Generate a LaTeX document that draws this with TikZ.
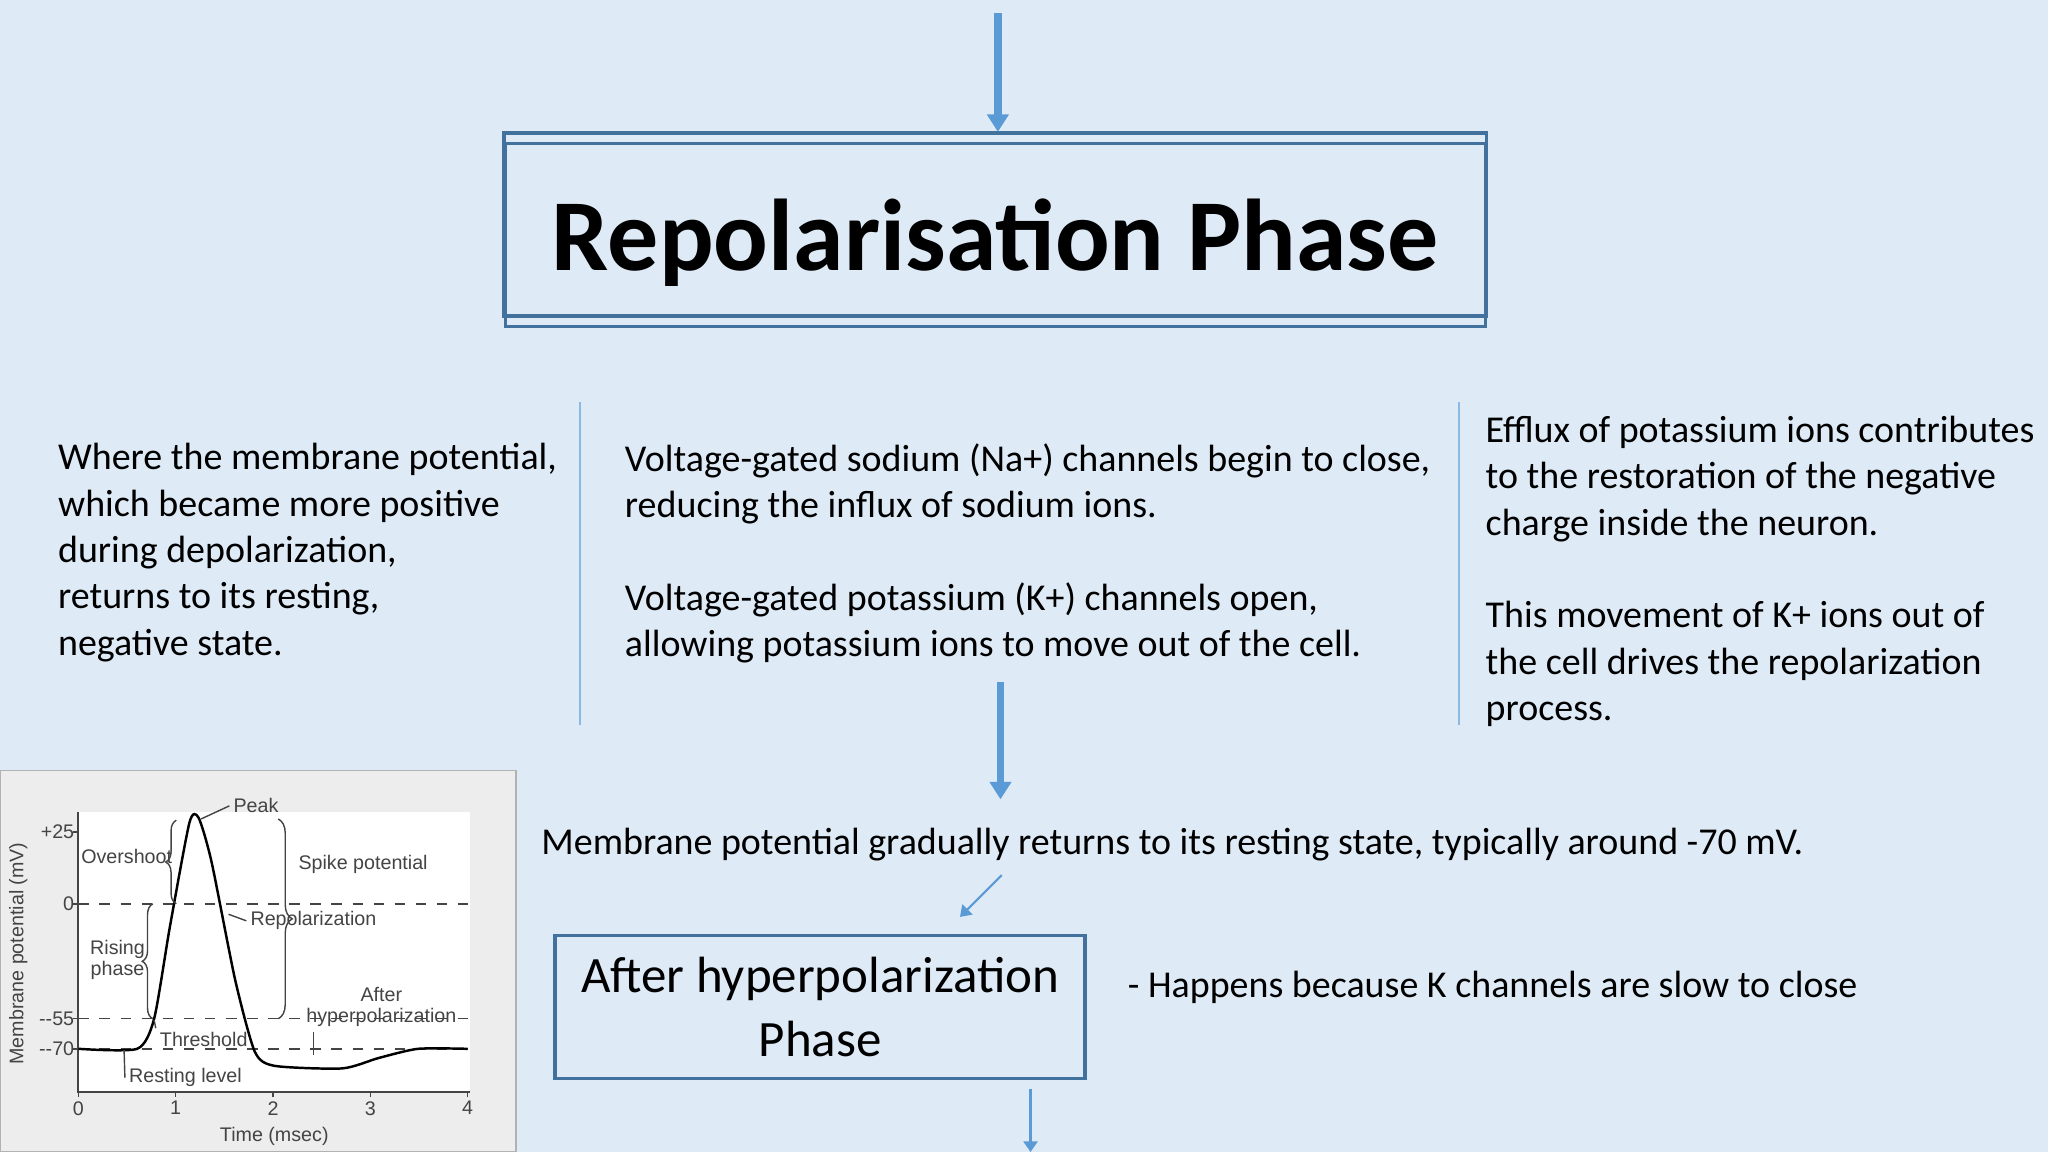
\documentclass[tikz,border=0pt]{standalone}
\usepackage{fontspec}
\setmainfont{Carlito}
\newfontfamily\plotfont{Liberation Sans}
\usetikzlibrary{positioning, arrows.meta, calc, decorations.pathreplacing}
\definecolor{bgcolor}{HTML}{DEEAF6}
\definecolor{boxcolor}{HTML}{41719C}
\definecolor{arrowcolor}{HTML}{5B9BD5}
\definecolor{panelcolor}{HTML}{EDEDED}
\definecolor{plotink}{HTML}{444444}
\begin{document}
\begin{tikzpicture}[x=0.01306cm, y=-0.01306cm]

    % --- Style Definitions ---
    \tikzset{
        block/.style={rectangle, draw=boxcolor, line width=1pt, text=black},
        body/.style={align=left, anchor=north west, font=\fontsize{10.8}{13.2}\selectfont, text=black},
        arrow/.style={-{Triangle[length=5pt,width=6pt]}, line width=2.2pt, arrowcolor},
        thinarrow/.style={-{Triangle[length=3pt,width=4pt]}, line width=0.6pt, arrowcolor},
        divider/.style={arrowcolor!70, line width=0.5pt},
        plotlabel/.style={font=\plotfont\fontsize{5.6}{6.2}\selectfont, text=plotink, align=center, inner sep=1pt}
    }

    % background
    \fill[bgcolor] (0,0) rectangle (1568,882);
    \useasboundingbox (0,0) rectangle (1568,882);

    % --- Boxes ---
    \node[block, minimum width=9.8cm, minimum height=1.83cm, text depth=0pt,
          font=\bfseries\fontsize{29}{32}\selectfont] (title) at (762,180) {Repolarisation Phase};
    \draw[boxcolor, line width=1pt] (386,102) rectangle (1138,242);
    \node[block, minimum width=5.3cm, minimum height=1.43cm, align=center,
          font=\fontsize{14.5}{18}\selectfont] (after) at (628,771) {After hyperpolarization\\Phase};

    % --- Text columns ---
    \node[body] (where) at (35,330) {Where the membrane potential,\\which became more positive\\during depolarization,\\returns to its resting,\\negative state.};
    \node[body] (sodium) at (469,330) {Voltage-gated sodium (Na+) channels begin to close,\\reducing the influx of sodium ions.\\[13.2pt]Voltage-gated potassium (K+) channels open,\\allowing potassium ions to move out of the cell.};
    \node[body] (efflux) at (1128,309) {Efflux of potassium ions contributes\\to the restoration of the negative\\charge inside the neuron.\\[13.2pt]This movement of K+ ions out of\\the cell drives the repolarization\\process.};
    \node[body, anchor=west] (resting) at (405,647) {Membrane potential gradually returns to its resting state, typically around -70 mV.};
    \node[body, anchor=west] (slow) at (854,756) {- Happens because K channels are slow to close};

    \draw[divider] (444,308) -- (444,555);
    \draw[divider] (1117,308) -- (1117,555);

    % --- Connectors ---
    \coordinate (top) at (764,10);
    \coordinate (mid) at (766,522);
    \coordinate (midend) at (766,612);
    \coordinate (slant) at (767,670);
    \coordinate (slantend) at (735,702);
    \coordinate (bottom) at (789,882);
    \draw[arrow] (top) -- (764,101);
    \draw[arrow] (mid) -- (midend);
    \draw[thinarrow] (slant) -- (slantend);
    \draw[thinarrow] (789,834) -- (bottom);

    % --- Action potential plot ---
    \fill[panelcolor] (0,590) rectangle (395,882);
    \draw[gray!60] (0,590) rectangle (395,882);
    \fill[white] (60,622) rectangle (360,836);
    \draw[plotink, line width=0.5pt] (60,622) -- (60,836) -- (360,836);
    \foreach \t [count=\i from 0] in {60,134.5,209,283.5,358}
        \draw[plotink] (\t,836) -- (\t,840) node[plotlabel, below] {\i};
    \foreach \y/\l in {637/+25, 692/0, 780/{--55}, 803/{--70}}
        \draw[plotink] (56,\y) -- (60,\y) node[plotlabel, left] {\l};
    \foreach \y in {692,780,803}
        \draw[plotink, dashed] (60,\y) -- (358,\y);
    \draw[black, line width=0.7pt] plot[smooth, tension=0.4] coordinates {
        (60,803) (105,803) (118,780) (130,710) (145,630) (152,626)
        (162,660) (180,750) (195,805) (210,816) (262,818) (290,810) (320,803) (358,803)};
    \node[plotlabel, rotate=90] (ylab) at (14,730) {Membrane potential (mV)};
    \node[plotlabel] (xlab) at (210,870) {Time (msec)};
    \node[plotlabel] (peak) at (196,617) {Peak};
    \node[plotlabel] (over) at (97,656) {Overshoot};
    \node[plotlabel] (spike) at (278,662) {Spike potential};
    \node[plotlabel] (repol) at (240,705) {Repolarization};
    \node[plotlabel] (rising) at (90,735) {Rising\\phase};
    \node[plotlabel] (ahp) at (292,771) {After\\hyperpolarization};
    \node[plotlabel] (thresh) at (156,796) {Threshold};
    \node[plotlabel] (restlvl) at (142,825) {Resting level};
    \draw[plotink, decorate, decoration={brace, amplitude=4pt}] (213,627) -- (213,780);
    \draw[plotink, decorate, decoration={brace, amplitude=3pt, mirror}] (135,628) -- (135,692);
    \draw[plotink, decorate, decoration={brace, amplitude=3pt, mirror}] (117,692) -- (117,780);
    \draw[plotink, line width=0.4pt] (peak.west) -- (154,627);
    \draw[plotink, line width=0.4pt] (repol.west) -- (175,700);
    \draw[plotink, line width=0.4pt] (thresh.north west) -- (118,781);
    \draw[plotink, line width=0.4pt] (restlvl.west) -- (95,804);
    \draw[plotink, line width=0.4pt] (240,790) -- (240,808);
\end{tikzpicture}
\end{document}
